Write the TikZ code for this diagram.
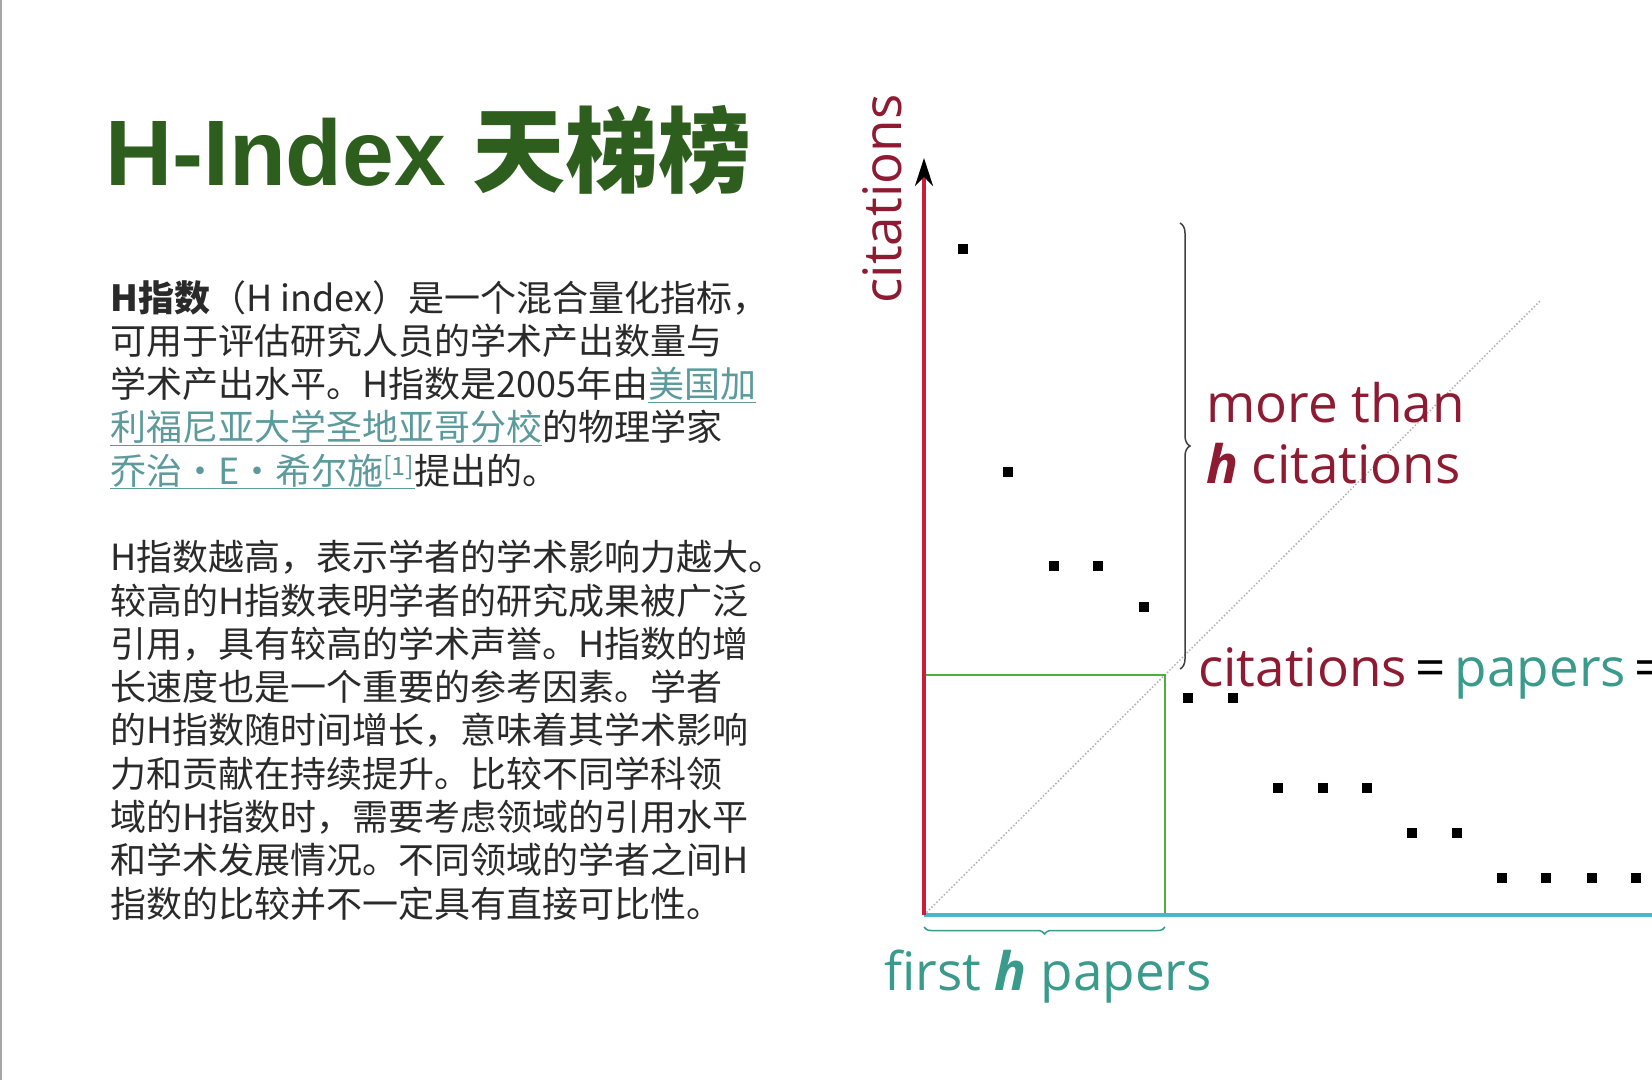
\documentclass[tikz,border=0pt]{standalone}
\usepackage{fontspec}
\setmainfont{Liberation Sans}
\newfontfamily\cjk{Noto Sans CJK SC}
\newfontfamily\osans{Open Sans}
\usetikzlibrary{decorations.pathreplacing,arrows.meta}
\definecolor{titlegreen}{HTML}{2E5E1E}
\definecolor{bodygray}{HTML}{2A2A2A}
\definecolor{linkteal}{HTML}{5C9A9C}
\definecolor{citred}{HTML}{8E1B32}
\definecolor{axred}{HTML}{C81E3A}
\definecolor{paperteal}{HTML}{3A9A8C}
\definecolor{axblue}{HTML}{4BB5CF}
\definecolor{boxgreen}{HTML}{4CAF3C}
\newcommand{\lnk}[1]{{\color{linkteal}\underline{#1}}}
\tikzset{
  para/.style={anchor=north west, align=left, inner sep=0pt, text=bodygray,
    font=\cjk\fontsize{36}{43.3}\selectfont},
  dot/.style={fill=black, minimum size=10pt, inner sep=0pt},
  gtext/.style={font=\osans\fontsize{53}{60}\selectfont, inner sep=0pt, anchor=base west}
}
\begin{document}
\begin{tikzpicture}[x=1pt,y=-1pt]
\useasboundingbox (0,0) rectangle (1652,1080);
\clip (0,0) rectangle (1652,1080);
\fill[white] (0,0) rectangle (1652,1080);
\draw[gray!70, line width=2pt] (1,0) -- (1,1080);
% title
\node[anchor=base west, inner sep=0pt, text=titlegreen] (title) at (105,185)
  {\fontsize{93}{100}\selectfont\bfseries H-Index {\cjk\bfseries 天梯榜}};
% paragraphs
\node[para] (p1) at (110,280) {{\bfseries H指数}（H index）是一个混合量化指标，\\
可用于评估研究人员的学术产出数量与\\
学术产出水平。H指数是2005年由\lnk{美国加}\\
\lnk{利福尼亚大学圣地亚哥分校}的物理学家\\
\lnk{乔治·E·希尔施\textsuperscript{[1]}}提出的。};
\node[para] (p2) at (110,540) {H指数越高，表示学者的学术影响力越大。\\
较高的H指数表明学者的研究成果被广泛\\
引用，具有较高的学术声誉。H指数的增\\
长速度也是一个重要的参考因素。学者\\
的H指数随时间增长，意味着其学术影响\\
力和贡献在持续提升。比较不同学科领\\
域的H指数时，需要考虑领域的引用水平\\
和学术发展情况。不同领域的学者之间H\\
指数的比较并不一定具有直接可比性。};
% axes
\coordinate (O) at (924,915);
\coordinate (ytop) at (924,158);
\coordinate (xend) at (1652,915);
\coordinate (diag) at (1541,300);
\draw[gray!60, dotted, line width=1.5pt] (O) -- (diag);
\draw[boxgreen, line width=2.5pt] (924,675) -- (1165,675) -- (1165,915);
\draw[axblue, line width=4pt] (O) -- (xend);
\draw[axred, line width=4pt, -{Stealth[length=28pt,width=18pt,black]}] (O) -- (ytop);
% dots
\foreach \x/\y [count=\i] in {963/249,1008/472,1054/566,1098/566,1144/607,1188/698,1233/698,1278/788,1323/788,1367/788,1412/833,1457/833,1502/878,1546/878,1592/878,1636/878}
  \node[dot] (d\i) at (\x,\y) {};
% braces
\coordinate (bt) at (1180,223);
\coordinate (bb) at (1180,669);
\draw[black!75, line width=1.5pt, decorate, decoration={brace, amplitude=10pt}] (bt) -- (bb);
\coordinate (fl) at (924,927);
\coordinate (fr) at (1165,927);
\draw[paperteal, line width=1.5pt, decorate, decoration={brace, amplitude=7pt}] (fr) -- (fl);
% labels
\node[gtext, text=citred] (more) at (1206,422) {more than};
\node[gtext, text=citred] (hcit) at (1206,483) {\textbf{\textit{h}} citations};
\node[gtext] (eq) at (1198,686) {{\color{citred}citations}\,{=}\,{\color{paperteal}papers}\,{=}};
\node[gtext, text=paperteal] (first) at (884,990) {first \textbf{\textit{h}} papers};
\node[font=\osans\fontsize{53}{60}\selectfont, text=citred, rotate=90, inner sep=0pt] (ylab) at (882,199) {citations};
\end{tikzpicture}
\end{document}
